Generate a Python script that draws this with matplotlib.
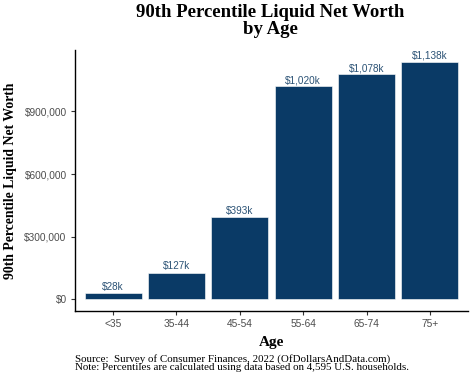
import matplotlib
matplotlib.use("Agg")
import matplotlib.pyplot as plt
from matplotlib.ticker import FuncFormatter

# ── data ────────────────────────────────────────────────────────────────────
ages = ["<35", "35-44", "45-54", "55-64", "65-74", "75+"]
net_worth = [28000, 127000, 393000, 1020000, 1078000, 1138000]
bar_labels = ["$28k", "$127k", "$393k", "$1,020k", "$1,078k", "$1,138k"]

BAR = "#0a3a66"
SERIF = ["Liberation Serif", "DejaVu Serif"]
SANS = ["Liberation Sans", "DejaVu Sans"]

fig = plt.figure(figsize=(4.74, 3.79), dpi=100)
ax = fig.add_axes([75 / 474, 1 - 311 / 379, (468 - 75) / 474, (311 - 50) / 379])

x = range(len(ages))
ax.bar(x, net_worth, width=0.9, color=BAR, edgecolor="white", linewidth=0.4)
for xi, v, lab in zip(x, net_worth, bar_labels):
    ax.text(xi, v + 6000, lab, ha="center", va="bottom", fontsize=7.2,
            color="#2b5275", family=SANS)

top = max(net_worth)
ax.set_xlim(-0.6, len(ages) - 0.4)
ax.set_ylim(-0.05 * top, 1.05 * top)
ax.set_yticks([0, 300000, 600000, 900000])
ax.yaxis.set_major_formatter(FuncFormatter(lambda v, _: f"${v:,.0f}"))
ax.set_xticks(list(x))
ax.set_xticklabels(ages)

for s in ["top", "right"]:
    ax.spines[s].set_visible(False)
for s in ["left", "bottom"]:
    ax.spines[s].set_linewidth(1.0)
ax.tick_params(axis="both", length=3, width=0.8, color="#333333",
               labelsize=7.3, labelcolor="#4d4d4d", pad=3)
for t in ax.get_xticklabels() + ax.get_yticklabels():
    t.set_family(SANS)

ax.set_xlabel("Age", family=SERIF, fontweight="bold", fontsize=11, labelpad=5)
ax.set_ylabel("90th Percentile Liquid Net Worth", family=SERIF,
              fontweight="bold", fontsize=9.9, labelpad=5)

fig.text(0.570, 1 - 21 / 379, "90th Percentile Liquid Net Worth\nby Age",
         ha="center", va="center", family=SERIF, fontweight="bold",
         fontsize=13.5, linespacing=1.0)

fig.text(75 / 474, 1 - 363 / 379,
         "Source:  Survey of Consumer Finances, 2022 (OfDollarsAndData.com)\n"
         "Note: Percentiles are calculated using data based on 4,595 U.S. households.",
         ha="left", va="center", family=SERIF, fontsize=7.9, linespacing=0.9)

fig.savefig("out.png", dpi=100, facecolor="white")
